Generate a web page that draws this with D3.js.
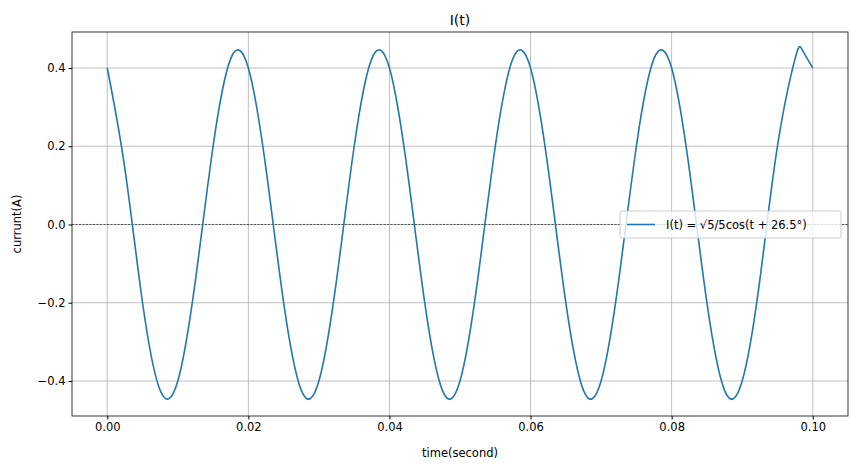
<!DOCTYPE html><html><head><meta charset="utf-8">
<script src="https://cdn.jsdelivr.net/npm/d3@7"></script>
<style>body{margin:0;background:#fff}text{font-family:"DejaVu Sans",sans-serif}</style></head><body>
<svg id="c" width="857" height="470"></svg>
<script>
const times=[0,0.0025,0.005,0.0075,0.01,0.0125,0.015,0.0175,0.02,0.0225,0.025,0.0275,0.03,0.0325,0.035,0.0375,0.04,0.0425,0.045,0.0475,0.05,0.0525,0.055,0.0575,0.06,0.0625,0.065,0.0675,0.07,0.0725,0.075,0.0775,0.08,0.0825,0.085,0.0875,0.09,0.0925,0.095,0.0975,0.0985,0.1];
const current=[0.400,0.142,-0.200,-0.424,-0.400,-0.142,0.200,0.424,0.400,0.142,-0.200,-0.424,-0.400,-0.142,0.200,0.424,0.400,0.142,-0.200,-0.424,-0.400,-0.142,0.200,0.424,0.400,0.142,-0.200,-0.424,-0.400,-0.142,0.200,0.424,0.400,0.142,-0.200,-0.424,-0.400,-0.142,0.200,0.424,0.447,0.400];
const xTicks=[0,0.02,0.04,0.06,0.08,0.10];
const yTicks=[-0.4,-0.2,0,0.2,0.4];
const svg=d3.select("#c");
const L=72,R=848,T=32,B=416;
const x=d3.scaleLinear().domain([-0.005,0.105]).range([L,R]);
const y=d3.scaleLinear().domain([-0.4895,0.492]).range([B,T]);
const g=svg.append("g");
xTicks.forEach(t=>g.append("line").attr("x1",x(t)).attr("x2",x(t)).attr("y1",T).attr("y2",B).attr("stroke","#b0b0b0").attr("stroke-width",0.8));
yTicks.forEach(t=>g.append("line").attr("y1",y(t)).attr("y2",y(t)).attr("x1",L).attr("x2",R).attr("stroke","#b0b0b0").attr("stroke-width",0.8));
g.append("line").attr("x1",L).attr("x2",R).attr("y1",y(0)).attr("y2",y(0)).attr("stroke","#000").attr("stroke-width",0.6).attr("stroke-dasharray","2,1.5");
const pts=times.map((t,i)=>[t,current[i]]);
svg.append("path").attr("d",d3.line().x(d=>x(d[0])).y(d=>y(d[1])).curve(d3.curveMonotoneX)(pts)).attr("fill","none").attr("stroke","#1f77b4").attr("stroke-width",1.6);
svg.select("path").attr("d",d3.line().x(d=>x(d[0])).y(d=>y(d[1])).curve(d3.curveNatural)(pts));
svg.append("rect").attr("x",L).attr("y",T).attr("width",R-L).attr("height",B-T).attr("fill","none").attr("stroke","#000").attr("stroke-width",0.8);
const xa=svg.append("g").attr("transform",`translate(0,${B})`).call(d3.axisBottom(x).tickValues(xTicks).tickFormat(d3.format(".2f")).tickSizeOuter(0).tickSize(3.5));
const ya=svg.append("g").attr("transform",`translate(${L},0)`).call(d3.axisLeft(y).tickValues(yTicks).tickFormat(d3.format(".1f")).tickSizeOuter(0).tickSize(3.5));
[xa,ya].forEach(a=>{a.select(".domain").remove();a.selectAll("text").attr("font-size",11.5).attr("fill","#000").style("font-family","DejaVu Sans");a.selectAll("line").attr("stroke","#000");});
ya.selectAll("text").text(d=>d3.format(".1f")(d).replace("-","−"));
svg.append("text").attr("x",(L+R)/2).attr("y",25).attr("text-anchor","middle").attr("font-size",14).text("I(t)");
svg.append("text").attr("x",(L+R)/2).attr("y",457).attr("text-anchor","middle").attr("font-size",11.5).text("time(second)");
svg.append("text").attr("transform",`translate(21,${(T+B)/2}) rotate(-90)`).attr("text-anchor","middle").attr("font-size",11.5).text("currunt(A)");
const lg=svg.append("g");
lg.append("rect").attr("x",620).attr("y",211).attr("width",221).attr("height",27).attr("rx",2).attr("fill","#fff").attr("fill-opacity",0.8).attr("stroke","#ccc");
lg.append("line").attr("x1",627).attr("x2",655).attr("y1",224.5).attr("y2",224.5).attr("stroke","#1f77b4").attr("stroke-width",1.6);
lg.append("text").attr("x",666).attr("y",228.5).attr("font-size",11.5).text("I(t) = √5/5cos(t + 26.5°)");
</script></body></html>
